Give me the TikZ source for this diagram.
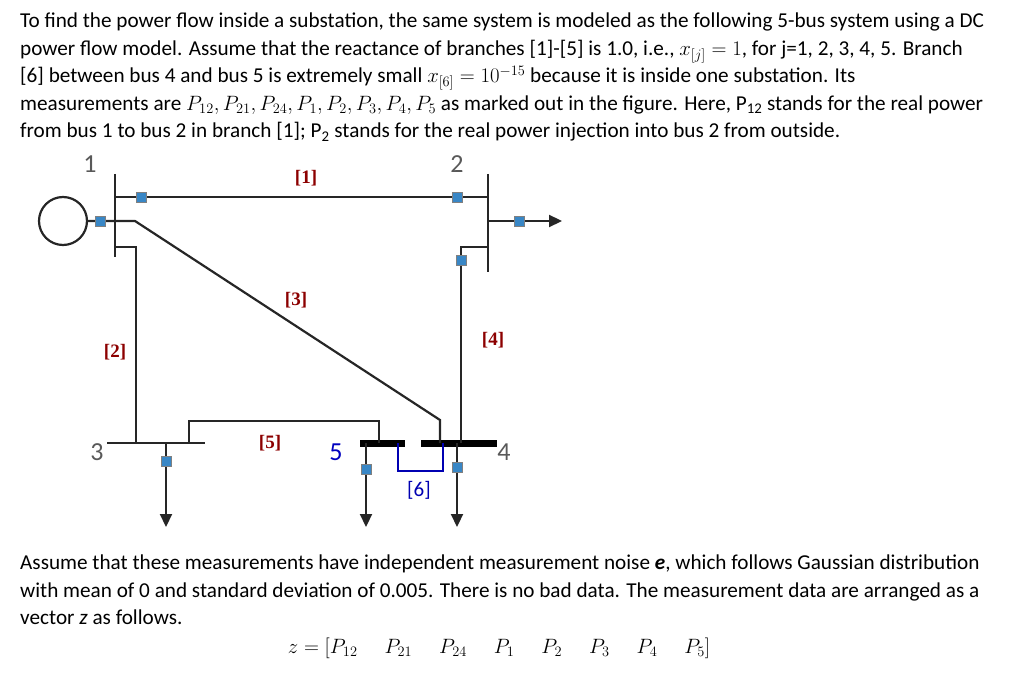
\documentclass[tikz,border=0pt]{standalone}
\usepackage{fontspec}
\setmainfont{Carlito}
\newfontfamily\brfont{Liberation Serif}
\usetikzlibrary{arrows.meta}
\begin{document}
\begin{tikzpicture}[x=1pt,y=-1pt,
  ln/.style={line width=2.2pt,black!85},
  bus/.style={line width=2.4pt,black!85},
  tbus/.style={line width=7pt,black},
  meas/.style={draw=black!50,fill=blue!45!cyan!55!gray,minimum size=10pt,inner sep=0pt},
  ld/.style={ln,-{Triangle[length=13pt,width=12pt]}},
  br/.style={font=\fontsize{19}{19}\selectfont\bfseries\brfont,text=red!55!black},
  bn/.style={font=\fontsize{26}{26}\selectfont,text=black!65},
  txt/.style={anchor=north west,align=left,inner sep=0pt,font=\fontsize{21.2}{27.5}\selectfont}]
\useasboundingbox (0,0) rectangle (1024,684);
\node[txt] (t1) at (20,13) {To find the power flow inside a substation, the same system is modeled as the following 5-bus system using a DC\\
power flow model. Assume that the reactance of branches [1]-[5] is 1.0, i.e., $x_{[j]}=1$, for j=1, 2, 3, 4, 5. Branch\\{}%
[6] between bus 4 and bus 5 is extremely small $x_{[6]}=10^{-15}$ because it is inside one substation. Its\\
measurements are $P_{12},P_{21},P_{24},P_1,P_2,P_3,P_4,P_5$ as marked out in the figure. Here, P\textsubscript{12} stands for the real power\\
from bus 1 to bus 2 in branch [1]; P\textsubscript{2} stands for the real power injection into bus 2 from outside.};
\node[txt] (t2) at (20,555) {Assume that these measurements have independent measurement noise \textbf{\textit{e}}, which follows Gaussian distribution\\
with mean of 0 and standard deviation of 0.005. There is no bad data. The measurement data are arranged as a\\
vector \textit{z} as follows.};
\node[font=\fontsize{22}{22}\selectfont] (eq) at (499,648) {$z=[P_{12}\ \quad P_{21}\ \quad P_{24}\ \quad P_1\ \quad P_2\ \quad P_3\ \quad P_4\ \quad P_5]$};
% buses
\draw[bus] (115,174) -- (115,257);
\draw[bus] (488,174) -- (488,272);
\draw[bus] (107,443) -- (205,443);
\draw[tbus] (360,443) -- (405,443);
\draw[tbus] (421,443) -- (497,443);
% generator
\node[draw,circle,minimum size=48pt,line width=2.2pt,black!85] (g) at (63,221) {};
\draw[ln] (g.east) -- (135,221) -- (440,420) -- (440,443);
% branches
\draw[ln] (115,197) -- (488,197);
\draw[ln] (115,247) -- (136,247) -- (136,443);
\draw[ln] (189,443) -- (189,421) -- (379,421) -- (379,443);
\draw[ln] (488,247) -- (461,247) -- (461,443);
\draw[line width=2.4pt,blue!70!black] (398,443) -- (398,471) -- (443,471) -- (443,443);
% loads
\draw[ld] (488,221) -- (562,221);
\draw[ld] (166,443) -- (166,527);
\draw[ld] (366,443) -- (366,527);
\draw[ld] (457,443) -- (457,527);
% measurements
\foreach \p in {(141,197),(457,197),(100,221),(519,221),(461,260),(166,461),(366,469),(457,467)}
  \node[meas] at \p {};
% labels
\node[bn] (n1) at (90,164) {1};
\node[bn] (n2) at (457,164) {2};
\node[bn] (n3) at (97,452) {3};
\node[bn] (n4) at (504,452) {4};
\node[bn,text=blue!75!black] (n5) at (336,452) {5};
\node[br] (b1) at (306,178) {[1]};
\node[br] (b2) at (115,352) {[2]};
\node[br] (b3) at (296,300) {[3]};
\node[br] (b4) at (493,340) {[4]};
\node[br] (b5) at (270,443) {[5]};
\node[br,text=blue!70!black,font=\fontsize{21}{21}\selectfont] (b6) at (419,490) {[6]};
\end{tikzpicture}
\end{document}
